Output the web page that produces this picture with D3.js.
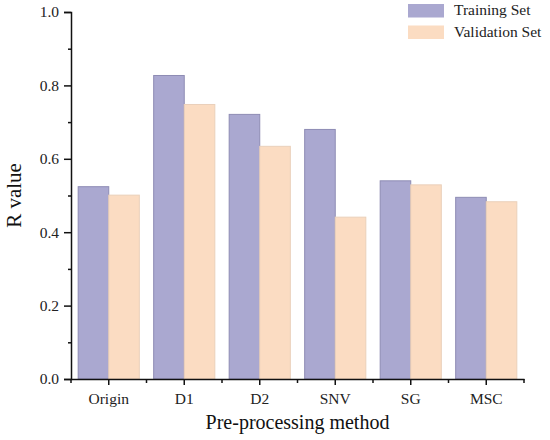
<!DOCTYPE html>
<html>
<head>
<meta charset="utf-8">
<script src="https://cdn.jsdelivr.net/npm/d3@7"></script>
<style>
  body { margin: 0; background: #fff; }
  svg { display: block; }
</style>
</head>
<body>
<svg width="550" height="440"></svg>
<script>
const methods = ["Origin", "D1", "D2", "SNV", "SG", "MSC"];
const seriesNames = ["Training Set", "Validation Set"];
const training = [0.524, 0.827, 0.721, 0.680, 0.540, 0.495];
const validation = [0.501, 0.748, 0.634, 0.441, 0.529, 0.483];
const yTicks = [0.0, 0.2, 0.4, 0.6, 0.8, 1.0];
const yMinorTicks = [0.1, 0.3, 0.5, 0.7, 0.9];

const fills = ["#aaa8d0", "#fbdcc2"];
const strokes = ["#8e8cb4", "#ead0ba"];

const svg = d3.select("svg"),
    margin = {top: 12, right: 26, bottom: 61, left: 71},
    width = +svg.attr("width") - margin.left - margin.right,
    height = +svg.attr("height") - margin.top - margin.bottom

const g = svg.append("g")
  .attr("transform", "translate(" + margin.left + "," + margin.top + ")");

const x = d3.scaleBand()
    .domain(methods)
    .range([0, width])
    .padding(0);

// two bars take ~81% of each band, centred on the tick
const inner = d3.scaleBand()
    .domain(seriesNames)
    .range([0, x.bandwidth() * 0.81]);

const y = d3.scaleLinear()
    .domain([0, 1])
    .range([height, 0]);

const rows = methods.map((m, i) => ({ method: m, values: [training[i], validation[i]] }))

// bars
const groups = g.selectAll(".grp")
  .data(rows)
  .join("g")
    .attr("transform", d => "translate(" + (x(d.method) + x.bandwidth() * 0.095) + ",0)");

groups.selectAll("rect")
  .data(d => d.values.map((v, j) => ({ key: seriesNames[j], v, j })))
  .join("rect")
    .attr("x", d => inner(d.key))
    .attr("y", d => y(d.v))
    .attr("width", inner.bandwidth())
    .attr("height", d => height - y(d.v))
    .attr("fill", d => fills[d.j])
    .attr("stroke", d => strokes[d.j])
    .attr("stroke-width", 1);

const font = "'Liberation Serif', 'Times New Roman', serif";

// Y axis
const yAxis = g.append("g")
  .call(d3.axisLeft(y).tickValues(yTicks).tickFormat(d3.format(".1f")).tickSize(7).tickPadding(5));
yAxis.selectAll("text").attr("font-family", font).attr("font-size", 15.5).attr("fill", "#222");
yAxis.append("g")
  .call(d3.axisLeft(y).tickValues(yMinorTicks).tickSize(3).tickFormat(""))
  .select(".domain").remove();
yAxis.selectAll("line, path").attr("stroke", "#111").attr("stroke-width", 1.5);

// X axis
const xAxis = g.append("g")
  .attr("transform", "translate(0," + height + ")")
  .call(d3.axisBottom(x).tickSize(6).tickSizeOuter(0).tickPadding(8));
xAxis.selectAll("text").attr("font-family", font).attr("font-size", 15.5).attr("fill", "#222");
xAxis.selectAll(".minor")
  .data(methods.map(m => x(m)).concat([width]))
  .join("line")
    .attr("class", "minor")
    .attr("x1", d => d).attr("x2", d => d)
    .attr("y1", 0).attr("y2", 4);
xAxis.selectAll("line, path").attr("stroke", "#111").attr("stroke-width", 1.5);

// axis titles
g.append("text")
  .attr("x", width / 2)
  .attr("y", height + 50)
  .attr("text-anchor", "middle")
  .attr("font-family", font)
  .attr("font-size", 20)
  .attr("fill", "#111")
  .text("Pre-processing method");

g.append("text")
  .attr("transform", "rotate(-90)")
  .attr("x", -height / 2)
  .attr("y", -50)
  .attr("text-anchor", "middle")
  .attr("font-family", font)
  .attr("font-size", 21)
  .attr("fill", "#111")
  .text("R value");

// legend
const legend = svg.append("g")
  .attr("transform", "translate(408,4)");
seriesNames.forEach((name, i) => {
  const row = legend.append("g").attr("transform", "translate(0," + (i * 21.5) + ")");
  row.append("rect")
    .attr("width", 36).attr("height", 13.5)
    .attr("fill", fills[i]);
  row.append("text")
    .attr("x", 46).attr("y", 11)
    .attr("font-family", font)
    .attr("font-size", 15.5)
    .attr("fill", "#222")
    .text(name);
});
</script>
</body>
</html>
